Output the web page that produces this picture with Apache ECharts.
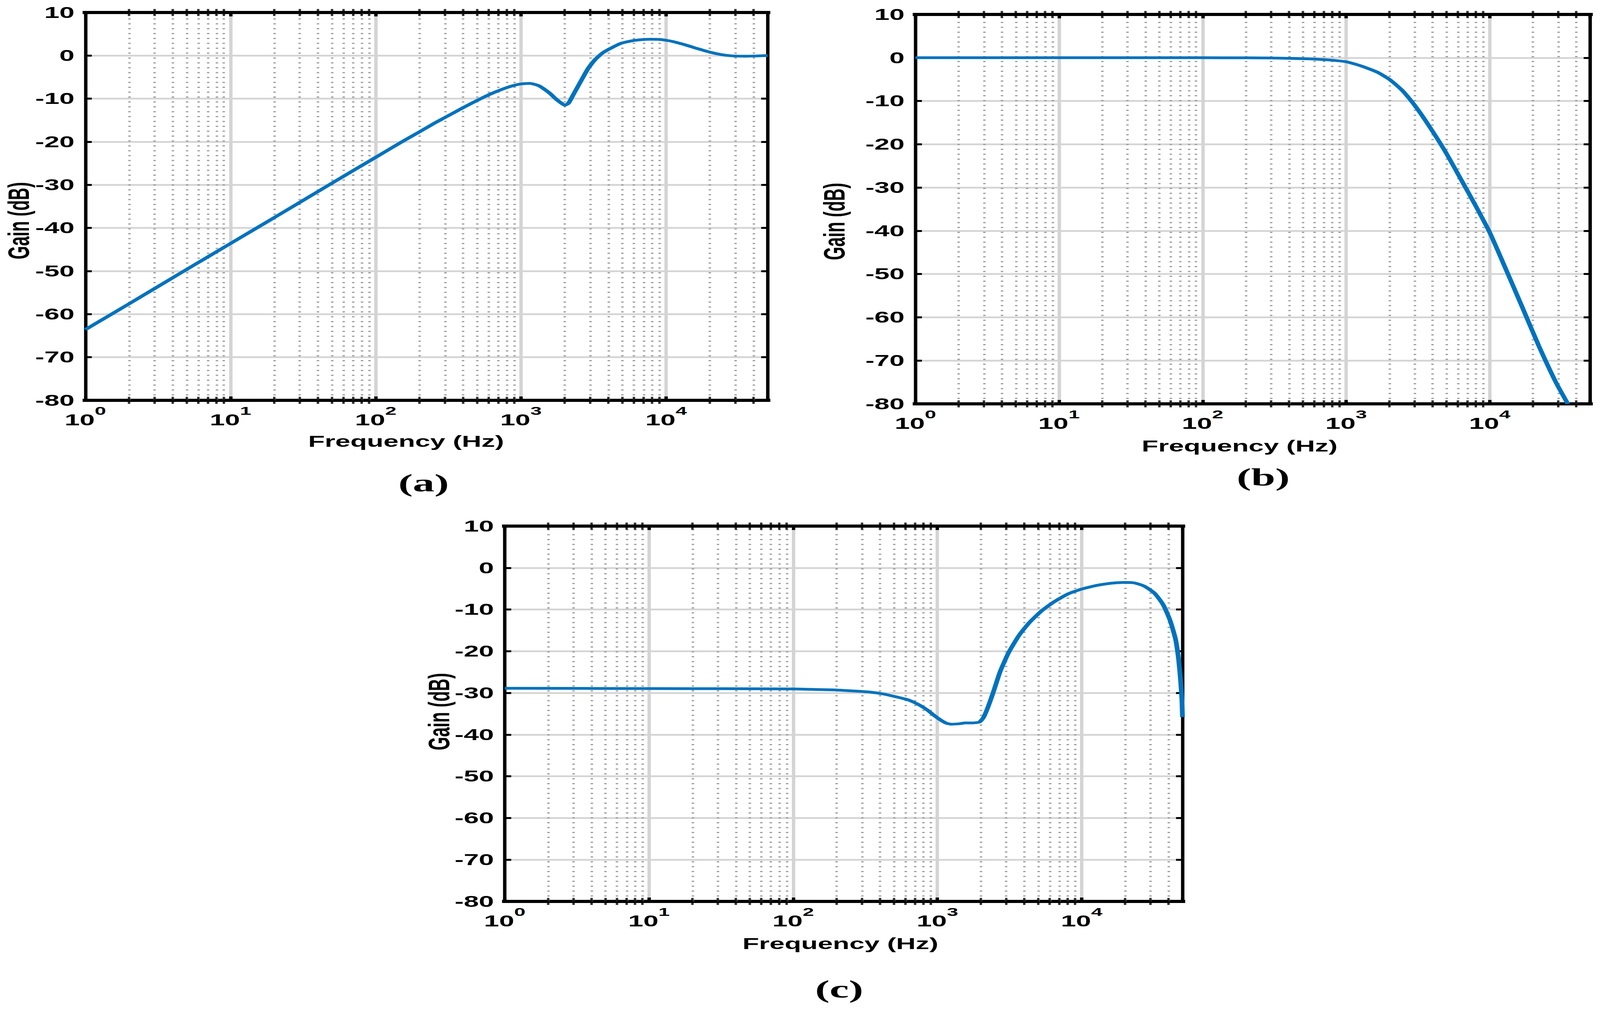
<!DOCTYPE html>
<html>
<head>
<meta charset="utf-8">
<script src="https://cdn.jsdelivr.net/npm/echarts@6/dist/echarts.min.js"></script>
<style>
html,body{margin:0;padding:0;background:#fff;overflow:hidden;width:100%;height:100%;}
#chart{width:2360px;height:2586px;transform-origin:0 0;}
</style>
</head>
<body>
<div id="chart"></div>
<script>
// ---- data ----
const freqA = [1, 2, 5, 10, 20, 50, 100, 150, 200, 250, 300, 400, 500, 600, 700, 800, 900, 1000, 1150, 1330, 1470, 1600, 1740, 1900, 2000, 2120, 2310, 2590, 2900, 3250, 3650, 4100, 4850, 5750, 6800, 7850, 9300, 11000, 13500, 16500, 20000, 23800, 28000, 35000, 42000, 50000];
const gainA = [-63.6, -57.6, -49.6, -43.6, -37.6, -29.6, -23.6, -20.1, -17.7, -15.8, -14.36, -12.08, -10.4, -9.1, -8.15, -7.42, -6.9, -6.58, -6.45, -7.0, -7.95, -8.9, -10.05, -11.05, -11.5, -11.1, -8.9, -5.9, -3.0, -0.9, 0.6, 1.6, 2.8, 3.4, 3.7, 3.8, 3.7, 3.3, 2.5, 1.6, 0.8, 0.25, -0.05, -0.15, -0.08, 0];

const freqB = [1, 10, 100, 200, 300, 500, 720, 1000, 1245, 1637, 2000, 2466, 2985, 3717, 4886, 6424, 8000, 10000, 12730, 16720, 21970, 28870, 35000];
const gainB = [0, 0, 0, -0.03, -0.07, -0.22, -0.46, -0.93, -1.8, -3.3, -5.0, -7.6, -10.9, -15.4, -21.6, -28.6, -34.3, -40.4, -48.3, -57.4, -66.6, -75.0, -80];

const freqC = [1, 10, 100, 150, 200, 280, 340, 420, 510, 630, 740, 850, 940, 1040, 1150, 1250, 1410, 1560, 1730, 1950, 2085, 2235, 2430, 2720, 3120, 3680, 4350, 5290, 6410, 8010, 10000, 12800, 16000, 19500, 23000, 27200, 32000, 36800, 41100, 44800, 47000, 48500, 49500, 50000];
const gainC = [-28.9, -28.95, -29.05, -29.2, -29.3, -29.6, -29.8, -30.25, -30.9, -31.7, -32.8, -34.1, -35.3, -36.4, -37.25, -37.5, -37.4, -37.2, -37.2, -37.0, -35.9, -33.5, -30.0, -24.9, -20.3, -16.2, -13.1, -10.3, -8.2, -6.3, -5.1, -4.2, -3.7, -3.5, -3.6, -4.4, -6.1, -8.9, -12.7, -17.2, -22.0, -27.0, -31.5, -35.8];

// axis ticks
const xMin = 1, xMax = 50000;
const xTickExp = [0, 1, 2, 3, 4];
const minorX = [2,3,4,5,6,7,8,9, 20,30,40,50,60,70,80,90, 200,300,400,500,600,700,800,900, 2000,3000,4000,5000,6000,7000,8000,9000, 20000,30000,40000];
const yMin = -80, yMax = 10, yStep = 10;

const panelLabels = ['(a)', '(b)', '(c)'];
const xTitle = 'Frequency (Hz)';
const yTitle = 'Gain (dB)';

// ---- layout (design px 4200x2586; horizontal pre-stretch units) ----
const S = 4200 / 2360;
const P = v => v / S;
const grids = [
  {left: P(224), width: P(1791), top: 32, height: 993},
  {left: P(2403), width: P(1771), top: 37, height: 997},
  {left: P(1325), width: P(1779), top: 1347, height: 961}
];
const gainPos = [[P(49), 565], [P(2190), 567], [P(1152), 1822]];
const freqPos = [[P(1066), 1130], [P(3254), 1142], [P(2206), 2416]];
const labPos = [[P(1112), 1236], [P(3316), 1221], [P(2203), 2532]];

const SANS = '"Liberation Sans", Arial, Helvetica, sans-serif';
const SERIF = '"Liberation Serif", "Times New Roman", serif';
const curves = [[freqA, gainA], [freqB, gainB], [freqC, gainC]];

const option = {
  animation: false,
  backgroundColor: '#fff',
  grid: [], xAxis: [], yAxis: [], series: [], graphic: []
};

function xLabel(v) {
  const e = Math.round(Math.log10(v));
  if (Math.abs(Math.log10(v) - e) > 1e-6 || xTickExp.indexOf(e) < 0) return '';
  return '{b|10}{s|' + e + '}';
}

for (let i = 0; i < 3; i++) {
  const g = grids[i];
  option.grid.push({left: g.left, top: g.top, width: g.width, height: g.height, containLabel: false, show: false});
  option.xAxis.push({
    type: 'log', logBase: 10, min: xMin, max: xMax, gridIndex: i, position: 'bottom',
    axisLine: {onZero: false, lineStyle: {color: '#000', width: 8, cap: 'square'}},
    axisTick: {inside: true, length: 10, lineStyle: {color: '#000', width: 5}},
    splitLine: {show: true, lineStyle: {color: '#d4d4d4', width: 5, type: 'solid'}},
    axisLabel: {
      margin: 12, color: '#000', formatter: xLabel,
      rich: {
        b: {fontSize: 40, fontWeight: 'bold', fontFamily: SANS, color: '#000', lineHeight: 58, verticalAlign: 'bottom'},
        s: {fontSize: 30, fontWeight: 'bold', fontFamily: SANS, color: '#000', lineHeight: 58, verticalAlign: 'top'}
      }
    }
  });
  option.xAxis.push({
    type: 'log', logBase: 10, min: xMin, max: xMax, gridIndex: i, position: 'top',
    axisLine: {onZero: false, lineStyle: {color: '#000', width: 8, cap: 'square'}},
    axisTick: {inside: true, length: 10, lineStyle: {color: '#000', width: 5}},
    splitLine: {show: false}, axisLabel: {show: false}
  });
  option.yAxis.push({
    type: 'value', min: yMin, max: yMax, interval: yStep, gridIndex: i, position: 'left',
    axisLine: {onZero: false, lineStyle: {color: '#000', width: 5, cap: 'square'}},
    axisTick: {inside: true, length: 9.5, lineStyle: {color: '#000', width: 5}},
    splitLine: {show: true, lineStyle: {color: '#d4d4d4', width: 4.5}},
    axisLabel: {margin: 16, color: '#000', fontSize: 40, fontWeight: 'bold', fontFamily: SANS}
  });
  option.yAxis.push({
    type: 'value', min: yMin, max: yMax, interval: yStep, gridIndex: i, position: 'right',
    axisLine: {onZero: false, lineStyle: {color: '#000', width: 5, cap: 'square'}},
    axisTick: {inside: true, length: 9.5, lineStyle: {color: '#000', width: 5}},
    splitLine: {show: false}, axisLabel: {show: false}
  });
  const fx = curves[i][0], gy = curves[i][1];
  const data = fx.map((f, k) => [f, gy[k]]);
  // dotted minor grid lines
  option.series.push({
    type: 'line', xAxisIndex: 2 * i, yAxisIndex: 2 * i, data: data, z: 1,
    showSymbol: false, symbol: 'none', silent: true,
    lineStyle: {opacity: 0, width: 0},
    markLine: {
      silent: true, symbol: ['none', 'none'], label: {show: false},
      lineStyle: {color: '#9c9c9c', width: 3.6, type: [3, 9.5]},
      data: minorX.map(v => ({xAxis: v}))
    }
  });
  // minor tick marks on bottom and top frame
  option.series.push({
    type: 'scatter', xAxisIndex: 2 * i, yAxisIndex: 2 * i, z: 6, silent: true,
    symbol: 'rect', symbolSize: [3.6, 18], itemStyle: {color: '#000'},
    data: minorX.map(v => [v, yMin]).concat(minorX.map(v => [v, yMax]))
  });
  // curve
  option.series.push({
    type: 'line', xAxisIndex: 2 * i, yAxisIndex: 2 * i, data: data, z: 5,
    showSymbol: false, symbol: 'none', smooth: 0.2, clip: true,
    lineStyle: {color: '#0072BD', width: 7}
  });
  option.graphic.push({
    type: 'text', x: gainPos[i][0], y: gainPos[i][1], rotation: Math.PI / 2,
    style: {text: yTitle, fontSize: 44, fontWeight: 'bold', fontFamily: SANS, fill: '#000',
      align: 'center', verticalAlign: 'middle', textAlign: 'center', textVerticalAlign: 'middle'}
  });
  option.graphic.push({
    type: 'text', x: freqPos[i][0], y: freqPos[i][1],
    style: {text: xTitle, fontSize: 40, fontWeight: 'bold', fontFamily: SANS, fill: '#000',
      align: 'center', verticalAlign: 'middle', textAlign: 'center', textVerticalAlign: 'middle'}
  });
  option.graphic.push({
    type: 'text', x: labPos[i][0], y: labPos[i][1],
    style: {text: panelLabels[i], fontSize: 64, fontWeight: 'bold', fontFamily: SERIF, fill: '#000',
      align: 'center', verticalAlign: 'middle', textAlign: 'center', textVerticalAlign: 'middle'}
  });
}

// fit the 4200x2586 design to the actual viewport, with the horizontal stretch of the reference
const dom = document.getElementById('chart');
const kx = (window.innerWidth || 4200) / 4200;
const ky = (window.innerHeight || 2586) / 2586;
dom.style.transform = 'scale(' + (S * kx) + ',' + ky + ')';

const chart = echarts.init(dom, null, {renderer: 'svg'});
chart.setOption(option);
</script>
</body>
</html>
